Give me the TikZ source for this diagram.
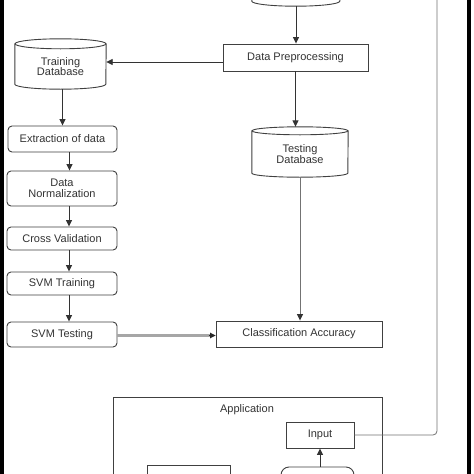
\documentclass[tikz,border=0pt]{standalone}
\usepackage{fontspec}
\setmainfont{Liberation Sans}
\usetikzlibrary{arrows.meta,calc}
\tikzset{
  txt/.style={font=\fontsize{11}{10.5}\selectfont, text=black!80, align=center},
  box/.style={txt, draw=black!75, line width=0.9pt, inner sep=0pt},
  rbox/.style={box, rounded corners=4pt},
  cylnode/.style={txt, inner sep=0pt},
  cylline/.style={draw=black!75, line width=0.9pt},
  arr/.style={draw=black!80, line width=0.9pt, -{Triangle[length=6.5pt,width=6pt]}},
  thinline/.style={draw=black!55, line width=0.8pt},
}
% cylinder drawn round a node whose north edge is the centre line of the top ellipse
\newcommand\drawcyl[3]{%
  \draw[cylline] (#1.north west) -- ([yshift=#3]#1.south west)
    arc[start angle=180, end angle=360, x radius=#2, y radius=#3]
    -- (#1.north east);
  \draw[cylline] (#1.north) ellipse[x radius=#2, y radius=#3];
}
\begin{document}
\begin{tikzpicture}[x=1pt,y=-1pt]
\useasboundingbox (0,0) rectangle (474,474);
\clip (0,0) rectangle (474,474);
\fill[white] (0,0) rectangle (474,474);

% side bars
\fill[black] (0,0) rectangle (4,474);
\fill[black] (467,0) rectangle (471,474);

% nodes
\node[cylnode, minimum width=88pt, minimum height=40pt] (srcdb) at (296,-14) {};
\node[box, minimum width=145pt, minimum height=27pt] (dp) at (295.5,57.5) {Data Preprocessing};
\node[cylnode, minimum width=91pt, minimum height=45pt] (trdb) at (60.5,66.5) {Training\\Database};
\node[cylnode, minimum width=96pt, minimum height=46pt] (tsdb) at (300,154) {Testing\\Database};
\node[rbox, minimum width=109pt, minimum height=26pt] (ext) at (62.5,139) {Extraction of data};
\node[rbox, minimum width=110pt, minimum height=35pt] (norm) at (62,188.5) {Data\\Normalization};
\node[rbox, minimum width=110pt, minimum height=23pt] (cv) at (62,238.5) {Cross Validation};
\node[rbox, minimum width=110pt, minimum height=23pt] (svmtr) at (62,283.5) {SVM Training};
\node[rbox, minimum width=110pt, minimum height=25pt] (svmte) at (62,334.5) {SVM Testing};
\node[box, minimum width=166pt, minimum height=26pt] (ca) at (299,334) {Classification Accuracy};

\node[box, minimum width=269pt, minimum height=130pt] (app) at (247.5,462) {};
\node[txt] (applabel) at (247,410) {Application};
\node[box, minimum width=68pt, minimum height=26pt] (input) at (320,435) {Input};
\node[box, minimum width=83pt, minimum height=30pt] (blbox) at (188.5,480) {};
\node[box, rounded corners=8pt, minimum width=73pt, minimum height=30pt] (brnode) at (317.5,482) {};
\coordinate (exit) at (437,-10);

% cylinders
\drawcyl{srcdb}{44pt}{5pt}
\drawcyl{trdb}{45.5pt}{5pt}
\drawcyl{tsdb}{48pt}{4pt}

% connectors
\draw[arr] (srcdb.south) -- (srcdb.south |- dp.north);
\draw[arr] ([yshift=-4.5pt]dp.west) -- ([yshift=-4.5pt]dp.west -| trdb.east);
\draw[arr] (dp.south) -- ([yshift=4pt]dp.south |- tsdb.north);
\draw[arr] ([xshift=2pt]trdb.south) -- ([xshift=2pt]trdb.south |- ext.north);
\draw[arr] ([xshift=7pt]ext.south) -- ([xshift=7pt]ext.south |- norm.north);
\draw[arr] ([xshift=7pt]norm.south) -- ([xshift=7pt]norm.south |- cv.north);
\draw[arr] ([xshift=7pt]cv.south) -- ([xshift=7pt]cv.south |- svmtr.north);
\draw[arr] ([xshift=7pt]svmtr.south) -- ([xshift=7pt]svmtr.south |- svmte.north);
\draw[thinline] (tsdb.south) -- ([yshift=6pt]tsdb.south |- ca.north);
\draw[arr] ([yshift=7pt]tsdb.south |- ca.north) -- (tsdb.south |- ca.north);
\draw[draw=black!35, line width=2.2pt] ([yshift=-1pt]svmte.east) -- ([xshift=-5pt,yshift=-1pt]svmte.east -| ca.west);
\draw[draw=black!85, line width=0.9pt, -{Triangle[length=5.5pt,width=5.5pt]}] ([xshift=-7pt,yshift=-1pt]svmte.east -| ca.west) -- ([yshift=-1pt]svmte.east -| ca.west);
\draw[thinline, rounded corners=4pt] (input.east) -| (exit);
\draw[arr] (input.south |- brnode.north) -- (input.south);
\end{tikzpicture}
\end{document}
